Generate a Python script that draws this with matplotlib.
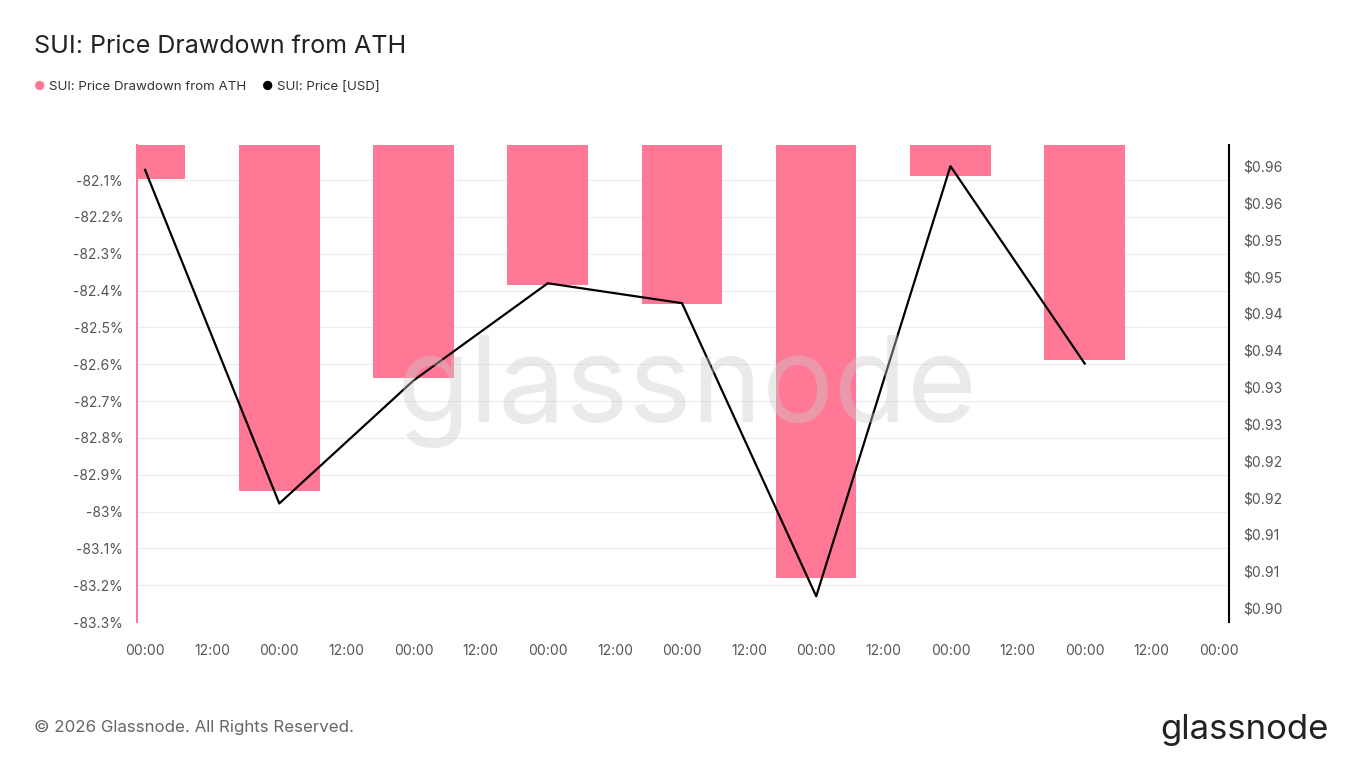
import matplotlib
matplotlib.use("Agg")
import matplotlib.pyplot as plt

days = [0, 1, 2, 3, 4, 5, 6, 7]
drawdown = [-82.097, -82.945, -82.638, -82.385, -82.437, -83.179, -82.089, -82.589]
price = [0.9595, 0.9142, 0.9309, 0.9441, 0.9414, 0.9016, 0.9600, 0.9332]
left_ticks = [-82.1, -82.2, -82.3, -82.4, -82.5, -82.6, -82.7, -82.8, -82.9, -83.0, -83.1, -83.2, -83.3]
left_labels = ["-82.1%", "-82.2%", "-82.3%", "-82.4%", "-82.5%", "-82.6%", "-82.7%", "-82.8%", "-82.9%", "-83%", "-83.1%", "-83.2%", "-83.3%"]
right_ticks = [0.960, 0.955, 0.950, 0.945, 0.940, 0.935, 0.930, 0.925, 0.920, 0.915, 0.910, 0.905, 0.900]
right_labels = ["$0.96", "$0.96", "$0.95", "$0.95", "$0.94", "$0.94", "$0.93", "$0.93", "$0.92", "$0.92", "$0.91", "$0.91", "$0.90"]
x_ticks = [i * 0.5 for i in range(17)]
x_labels = ["00:00" if i % 2 == 0 else "12:00" for i in range(17)]

PINK = "#ff7896"
plt.rcParams['font.family'] = ['Inter', 'DejaVu Sans']
fig = plt.figure(figsize=(13.66, 7.68), dpi=100)
ax = fig.add_axes([0.1003, 0.190, 0.7994, 0.621])
top = -82.005
ax.bar(days, [d - top for d in drawdown], bottom=top, width=0.6, color=PINK, zorder=2)
ax.set_ylim(-83.3, top)
ax.set_xlim(-0.06, 8.075)
ax.set_yticks(left_ticks)
ax.set_yticklabels(left_labels)
ax.set_xticks(x_ticks)
ax.set_xticklabels(x_labels)
ax.grid(axis='y', color='#ececec', linewidth=0.8, zorder=0)
for s in ['top', 'right', 'bottom']:
    ax.spines[s].set_visible(False)
ax.spines['left'].set_color(PINK)
ax.spines['left'].set_linewidth(1.5)
ax.tick_params(axis='both', length=0, labelsize=10, colors='#555555', pad=16)
ax.tick_params(axis='y', pad=10)

ax2 = ax.twinx()
ax2.plot(days, price, color='black', linewidth=1.6, zorder=3)
ax2.set_ylim(0.8981, 0.96285)
ax2.set_yticks(right_ticks)
ax2.set_yticklabels(right_labels)
for s in ['top', 'left', 'bottom']:
    ax2.spines[s].set_visible(False)
ax2.spines['right'].set_linewidth(1.5)
ax2.tick_params(axis='y', length=0, labelsize=10, colors='#555555', pad=10)

fig.text(0.503, 0.49, "glassnode", fontsize=86, color='#cccccc', alpha=0.4,
         ha='center', va='center', zorder=10)
fig.text(0.025, 0.94, "SUI: Price Drawdown from ATH", fontsize=18, color='#222222', va='center')
fig.text(0.025, 0.887, "●", color=PINK, fontsize=9, va='center')
fig.text(0.036, 0.887, "SUI: Price Drawdown from ATH", fontsize=9.6, color='#333333', va='center')
fig.text(0.192, 0.887, "●", color='black', fontsize=9, va='center')
fig.text(0.203, 0.887, "SUI: Price [USD]", fontsize=9.6, color='#333333', va='center')
fig.text(0.025, 0.053, "© 2026 Glassnode. All Rights Reserved.", fontsize=12.2, color='#666666', va='center')
fig.text(0.973, 0.05, "glassnode", fontsize=25, color='#222222', ha='right', va='center')
fig.savefig("out.png", dpi=100)
